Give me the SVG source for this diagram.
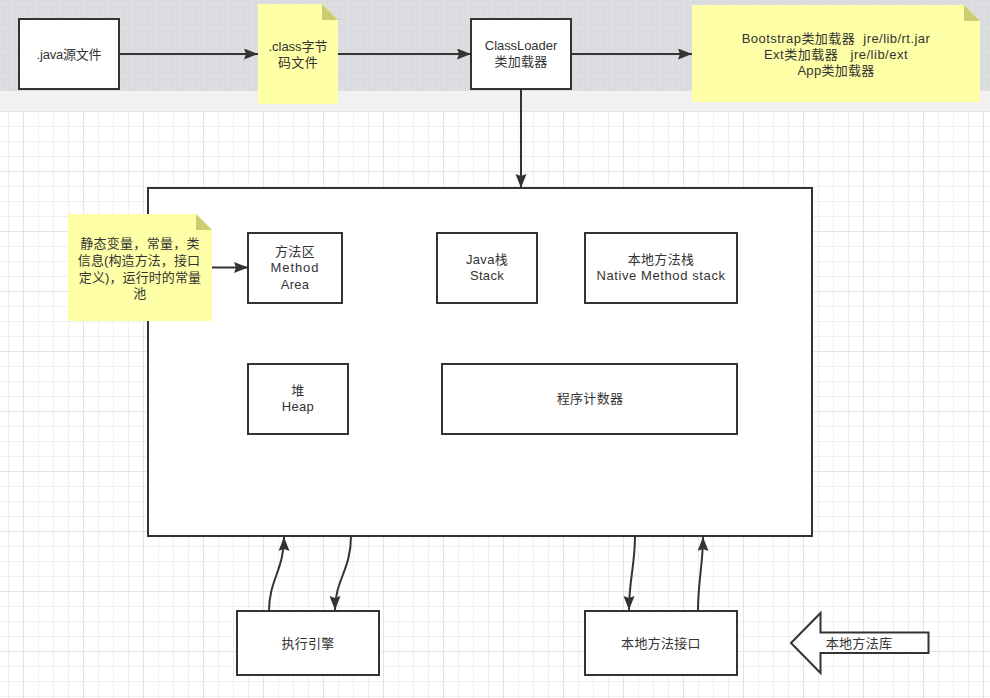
<svg xmlns="http://www.w3.org/2000/svg" width="990" height="698" viewBox="0 0 990 698">
<style>
.b{fill:#fff;stroke:#333;stroke-width:2}
.n{fill:#ffffa8}
.f{fill:#cccc70}
.c{fill:none;stroke:#333;stroke-width:2}
text{font-family:"Liberation Sans","Noto Sans CJK SC",sans-serif;font-size:13px;fill:#333;text-anchor:middle;letter-spacing:.3px}
</style>
<defs>
<marker id="a" markerUnits="userSpaceOnUse" markerWidth="15" markerHeight="12" refX="14" refY="5.5" orient="auto"><path d="M0 0L14 5.500L0 11L2 5.500Z" fill="#333"/></marker>
<pattern id="g1" width="15" height="15" patternUnits="userSpaceOnUse" x="8" y="6"><path d="M.5 0V15M0 .5H15" fill="none" stroke="#efefef"/></pattern>
<pattern id="g2" width="60" height="60" patternUnits="userSpaceOnUse" x="23" y="51"><path d="M.5 0V60M0 .5H60" fill="none" stroke="#e4e4e4"/></pattern>
<pattern id="t" width="6" height="6" patternUnits="userSpaceOnUse"><rect width="6" height="6" fill="#dcdee2"/><path d="M0 1.500H6M3.500 0V6" stroke="#d6d8dc"/></pattern>
</defs>
<rect width="990" height="698" fill="#fff"/>
<rect y="111" width="990" height="587" fill="url(#g1)"/>
<rect y="111" width="990" height="587" fill="url(#g2)"/>
<rect width="990" height="91" fill="url(#t)"/>
<rect y="91" width="990" height="20" fill="#f1f1f1"/>
<g id="main"><rect class="b" x="148" y="188" width="664" height="348"/></g>
<g id="connectors">
<path class="c" marker-end="url(#a)" d="M119 54H258"/>
<path class="c" marker-end="url(#a)" d="M338 54H471"/>
<path class="c" marker-end="url(#a)" d="M571 54H692"/>
<path class="c" marker-end="url(#a)" d="M521 89V188"/>
<path class="c" marker-end="url(#a)" d="M212 267.500H248"/>
<path class="c" marker-end="url(#a)" d="M269 611C269 580 284 570 284 537"/>
<path class="c" marker-end="url(#a)" d="M351 536C351 570 335 580 335 610"/>
<path class="c" marker-end="url(#a)" d="M635 536C635 565 629 580 629 610"/>
<path class="c" marker-end="url(#a)" d="M698 611C698 580 703 565 703 537"/>
</g>
<g id="java"><rect class="b" x="19" y="19" width="100" height="70"/><text x="69" y="59" style="letter-spacing:-.2px">.java源文件</text></g>
<g id="class"><path class="n" d="M258 4H322L338 20V104H258Z"/><path class="f" d="M322 4L338 20H322Z"/><text x="298" y="51" style="letter-spacing:0">.class字节</text><text x="298" y="67">码文件</text></g>
<g id="loader"><rect class="b" x="471" y="19" width="100" height="70"/><text x="521" y="50" style="letter-spacing:-.06px">ClassLoader</text><text x="521" y="66">类加载器</text></g>
<g id="bootstrap"><path class="n" d="M692 5H964L980 21V102H692Z"/><path class="f" d="M964 5L980 21H964Z"/><text x="836" y="43" xml:space="preserve" style="letter-spacing:.45px">Bootstrap类加载器  jre/lib/rt.jar</text><text x="836" y="59" xml:space="preserve" style="letter-spacing:.5px">Ext类加载器   jre/lib/ext</text><text x="836" y="75">App类加载器</text></g>
<g id="note"><path class="n" d="M68 214H196L212 230V321H68Z"/><path class="f" d="M196 214L212 230H196Z"/><text x="140" y="248">静态变量，常量，类</text><text x="139" y="265" style="letter-spacing:.1px">信息(构造方法，接口</text><text x="140" y="282" style="letter-spacing:.1px">定义)，运行时的常量</text><text x="140" y="298">池</text></g>
<g id="method"><rect class="b" x="248" y="233" width="94" height="70"/><text x="295" y="256">方法区</text><text x="295" y="272" style="letter-spacing:.9px">Method</text><text x="295" y="289">Area</text></g>
<g id="stack"><rect class="b" x="437" y="233" width="100" height="70"/><text x="487" y="264">Java栈</text><text x="487" y="280">Stack</text></g>
<g id="native"><rect class="b" x="585" y="233" width="152" height="70"/><text x="661" y="264">本地方法栈</text><text x="661" y="280" style="letter-spacing:.6px">Native Method stack</text></g>
<g id="heap"><rect class="b" x="248" y="364" width="100" height="70"/><text x="298" y="395">堆</text><text x="298" y="411">Heap</text></g>
<g id="pc"><rect class="b" x="442" y="364" width="295" height="70"/><text x="590" y="403">程序计数器</text></g>
<g id="engine"><rect class="b" x="237" y="611" width="142" height="64"/><text x="308" y="648">执行引擎</text></g>
<g id="interface"><rect class="b" x="585" y="611" width="152" height="64"/><text x="661" y="648">本地方法接口</text></g>
<g id="lib"><path class="b" d="M791 643L820.500 613V632.500H928.500V653H820.500V673Z"/><text x="859" y="648">本地方法库</text></g>
</svg>
